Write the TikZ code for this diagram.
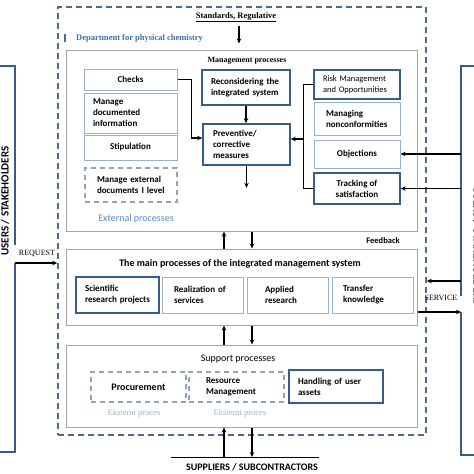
\documentclass[tikz,border=0pt]{standalone}
\usepackage{fontspec}
\setmainfont{Liberation Serif}
\newfontfamily\calfont{Carlito}
\usetikzlibrary{arrows.meta}
\definecolor{dblue}{HTML}{385D8A}
\definecolor{lblue}{HTML}{9AB0CC}
\definecolor{frameblue}{HTML}{4D6A8A}
\definecolor{dashblue}{HTML}{8FA3BB}
\definecolor{greyline}{HTML}{A5A5A5}
\definecolor{depblue}{HTML}{3D6FA8}
\definecolor{extblue}{HTML}{5A8AC0}
\definecolor{ekgrey}{HTML}{9FB4C8}
\begin{document}
\begin{tikzpicture}[x=1pt,y=-1pt,
  arr/.style={-{Stealth[length=5pt,width=4.5pt]}, line width=1.1pt},
  conn/.style={line width=1.1pt},
  bx/.style={draw, inner sep=0pt, fill=white, font=\calfont\fontsize{9}{11}\selectfont\bfseries, align=center},
  lightbx/.style={bx, draw=lblue, line width=1pt},
  darkbx/.style={bx, draw=dblue, line width=1.6pt},
  dashbx/.style={bx, draw=dashblue, line width=1.4pt, dash pattern=on 5pt off 4pt},
  bigbx/.style={draw=greyline, line width=1pt, fill=white, inner sep=0pt},
  sidebx/.style={draw=dblue, line width=1.5pt},
]
\useasboundingbox (0,0) rectangle (474,474);

% outer dashed frame
\node[draw=frameblue, line width=1.6pt, dash pattern=on 6pt off 4pt, minimum width=368, minimum height=428, inner sep=0pt] (org) at (242,221) {};

% side boxes
\draw[sidebx] (15,245) -- (15,66) -- (-20,66) -- (-20,452) -- (15,452) -- (15,263);
\draw[sidebx] (461,296) -- (461,66) -- (500,66) -- (500,455) -- (461,455) -- (461,312);
\node[rotate=90, font=\calfont\fontsize{11}{13}\selectfont\bfseries] (users) at (5,201) {USERS / STAKEHOLDERS};
\node[rotate=-90, font=\calfont\fontsize{12}{14}\selectfont\bfseries] (users2) at (477.5,246) {USERS / STAKEHOLDERS};
\coordinate (lreq) at (15,263);
\coordinate (rin) at (461,281);
\coordinate (rsrv) at (461,312);

% top texts
\node[font=\fontsize{8.5}{10}\selectfont\bfseries] (std) at (236,17) {\underline{Standards, Regulative}};
\node[font=\fontsize{8.5}{10}\selectfont\bfseries, text=depblue, anchor=west, inner sep=0pt] (dep) at (76,38) {Department for physical chemistry};
\draw[depblue, line width=1.2pt] (65,34) -- (65,42);

% big boxes
\node[bigbx, minimum width=351, minimum height=181] (mgmt) at (241.5,140.5) {};
\node[bigbx, minimum width=351, minimum height=76] (mainp) at (241.5,287) {};
\node[bigbx, minimum width=351, minimum height=82] (supp) at (241.5,386) {};

\node[font=\fontsize{8}{10}\selectfont\bfseries] (mtitle) at (247,61) {Management processes};

% management column left
\node[lightbx, minimum width=93, minimum height=21] (checks) at (130.5,79.5) {Checks};
\node[lightbx, minimum width=93, minimum height=40, align=left, inner xsep=9pt, text width=75pt] (mdoc) at (130.5,113) {Manage\\documented\\information};
\node[lightbx, minimum width=93, minimum height=25] (stip) at (130.5,147.5) {Stipulation};
\node[dashbx, minimum width=92, minimum height=34, align=left, inner xsep=12pt, text width=68pt] (mext) at (131,185) {Manage external\\documents I level};
\node[font=\calfont\fontsize{10}{12}\selectfont, text=extblue] (extp) at (136,219) {External processes};

% middle column
\node[darkbx, minimum width=88, minimum height=35, align=left, inner xsep=9pt, text width=70pt] (recon) at (246,87.5) {Reconsidering the\\integrated system};
\node[darkbx, minimum width=87, minimum height=41, align=left, inner xsep=10pt, text width=67pt] (prev) at (246.5,144.5) {Preventive/\\corrective\\measures};

% right column
\node[darkbx, line width=1.3pt, minimum width=86, minimum height=29, align=left, inner xsep=9pt, text width=68pt, font=\calfont\fontsize{8.5}{10.5}\selectfont] (risk) at (357,84.5) {Risk Management\\and Opportunities};
\node[lightbx, minimum width=86, minimum height=33, align=left, inner xsep=12pt, text width=62pt] (ncf) at (357,118.5) {Managing\\nonconformities};
\node[lightbx, minimum width=86, minimum height=28] (obj) at (357,154) {Objections};
\node[darkbx, minimum width=86, minimum height=31] (track) at (357,188.5) {Tracking of\\satisfaction};

\node[font=\calfont\fontsize{8.5}{10}\selectfont\bfseries] (fb) at (383,241) {Feedback};

% main processes
\node[font=\calfont\fontsize{10}{12}\selectfont\bfseries] (maintitle) at (240,264) {The main processes of the integrated management system};
\node[darkbx, minimum width=83, minimum height=36, align=left, inner xsep=9pt, text width=65pt] (sci) at (117.5,295) {Scientific\\research projects};
\node[lightbx, minimum width=81, minimum height=36, align=left, inner xsep=12pt, text width=57pt] (real) at (202.5,295) {Realization of\\services};
\node[lightbx, minimum width=81, minimum height=36, align=left, inner xsep=18pt, text width=45pt] (appl) at (287.5,295) {Applied\\research};
\node[lightbx, minimum width=81, minimum height=36, align=left, inner xsep=11pt, text width=59pt] (trans) at (372.5,295) {Transfer\\knowledge};

% support processes
\node[font=\calfont\fontsize{10}{12}\selectfont] (stitle) at (238,359) {Support processes};
\node[dashbx, minimum width=95, minimum height=30, font=\calfont\fontsize{10}{12}\selectfont\bfseries] (proc) at (138.5,387) {Procurement};
\node[dashbx, minimum width=95, minimum height=30, align=left, inner xsep=17pt, text width=61pt] (resm) at (236.5,387) {Resource\\Management};
\node[darkbx, minimum width=94, minimum height=33, align=left, inner xsep=9pt, text width=76pt] (hand) at (336,386.5) {Handling of user\\assets};
\node[font=\fontsize{8.5}{10}\selectfont, text=ekgrey] (ek1) at (134,413) {Eksterni proces};
\node[font=\fontsize{8.5}{10}\selectfont, text=ekgrey] (ek2) at (240,413) {Eksterni proces};

% suppliers
\coordinate (supl) at (171,457);
\coordinate (supr) at (319,457);
\node[font=\calfont\fontsize{10}{12}\selectfont\bfseries] (suppliers) at (252,467) {SUPPLIERS / SUBCONTRACTORS};
\draw[line width=0.8pt] (supl) -- (supr);

% side labels
\node[font=\fontsize{8}{10}\selectfont] (req) at (37,253) {REQUEST};
\node[font=\fontsize{8}{10}\selectfont] (srv) at (441,298) {SERVICE};

% connectors
\draw[arr] (std.south -| 239,0) ++(0,1) -- ++(0,17);
\draw[arr] (checks.east) -- ++(14,0) |- ([yshift=6.5pt]prev.west);
\draw[arr] (recon.south) -- (recon.south |- prev.north);
\draw[arr] (prev.south) -- ++(0,22);
\draw[conn] (risk.west) -- ++(-10,0) coordinate (brk) |- (track.west);
\draw[arr] (brk |- 0,139) -- (prev.east |- 0,139);
\draw[arr] (obj.east -| rin) -- (obj.east);
\draw[arr] (track.east -| rin) -- (track.east);

\draw[arr] (mainp.north -| 224,0) -- (mgmt.south -| 224,0);
\draw[arr] (mgmt.south -| 252,0) -- (mainp.north -| 252,0);
\draw[arr] (supp.north -| 224,0) -- (mainp.south -| 224,0);
\draw[arr] (mainp.south -| 252,0) -- (supp.north -| 252,0);
\draw[arr] (supl -| 224,0) -- (supp.south -| 224,0);
\draw[arr] (supp.south -| 252,0) -- (supl -| 252,0);

\draw[arr] (lreq) -- (lreq -| org.west);
\draw[arr] (rin) -- (rin -| org.east);
\draw[arr] (mainp.east |- rsrv) -- (rsrv);
\end{tikzpicture}
\end{document}
